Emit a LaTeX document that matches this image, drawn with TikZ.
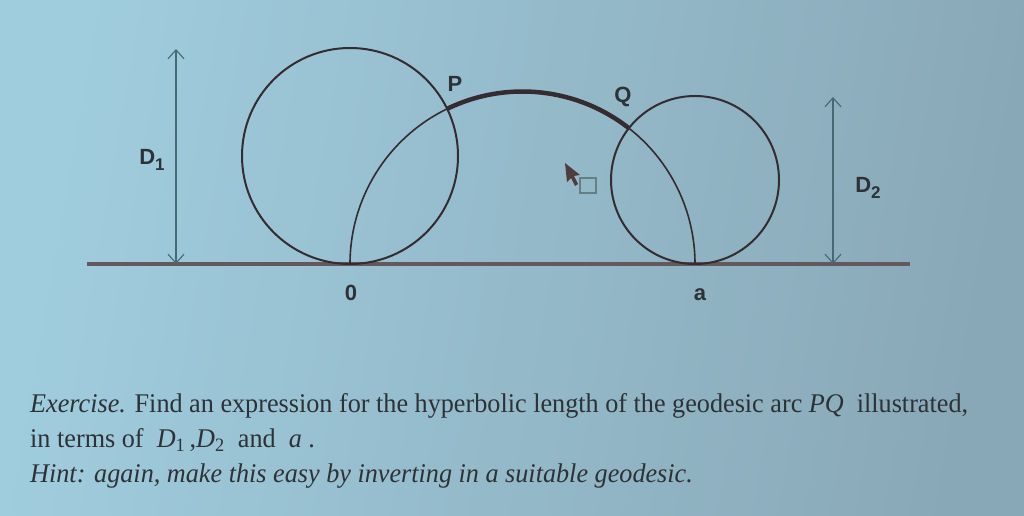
\documentclass[tikz,border=0pt]{standalone}
\usepackage{fontspec}
\setmainfont{Liberation Serif}
\newfontfamily\labfont{Liberation Sans}
\usetikzlibrary{arrows.meta}
\definecolor{bgA}{RGB}{160,205,222}
\definecolor{bgM}{RGB}{148,192,208}
\definecolor{bgB}{RGB}{137,168,183}
\definecolor{curve}{RGB}{52,44,48}
\definecolor{basec}{RGB}{100,88,92}
\definecolor{dimc}{RGB}{70,105,115}
\definecolor{txt}{RGB}{45,50,55}
\definecolor{curs}{RGB}{80,60,62}
\definecolor{sq}{RGB}{105,125,132}
\begin{document}
\begin{tikzpicture}[x=1pt,y=1pt,
  circ/.style={draw=curve,line width=2pt},
  geo/.style={draw=curve,line width=1.6pt},
  geothick/.style={draw=curve,line width=4.5pt},
  dimarrow/.style={draw=dimc,line width=1.1pt,{Straight Barb[length=9pt,width=16pt]}-{Straight Barb[length=9pt,width=16pt]}},
  lab/.style={font=\labfont\bfseries\fontsize{22}{22}\selectfont, text=txt, inner sep=0pt},
  body/.style={font=\fontsize{27}{27}\selectfont, text=txt, anchor=base west, inner sep=0pt}]
\shade[left color=bgA,middle color=bgM,right color=bgB,shading angle=80] (0,0) rectangle (1024,516);
\useasboundingbox (0,0) rectangle (1024,516);
% coordinates
\coordinate (L) at (87,252);
\coordinate (R) at (910,252);
\coordinate (O) at (350,252);
\coordinate (A) at (695,252);
\coordinate (C1) at (350,360);
\coordinate (C2) at (695,336);
\coordinate (G) at (522.5,252);
\path (G) ++(115.9:172.5pt) coordinate (P);
\path (G) ++(51.9:172.5pt) coordinate (Q);
\coordinate (D1t) at (176,467);
\coordinate (D1b) at (176,252);
\coordinate (D2t) at (833,419);
\coordinate (D2b) at (833,252);
% base line
\draw[line width=4pt, basec] (L) -- (R);
% circles
\draw[circ] (C1) circle[radius=108pt];
\draw[circ] (C2) circle[radius=84pt];
% geodesic
\draw[geo] (O) arc[start angle=180,end angle=115.9,radius=172.5pt];
\draw[geothick] (P) arc[start angle=115.9,end angle=51.9,radius=172.5pt];
\draw[geo] (Q) arc[start angle=51.9,end angle=0,radius=172.5pt];
% dimension arrows
\draw[dimarrow] (D1b) -- (D1t);
\draw[dimarrow] (D2b) -- (D2t);
% labels
\node[lab] (lD1) at (152,356) {D\raisebox{-0.5ex}{\fontsize{17}{17}\selectfont 1}};
\node[lab] (lP) at (455,432) {P};
\node[lab] (lQ) at (623,419) {Q};
\node[lab] (lD2) at (868,328) {D\raisebox{-0.5ex}{\fontsize{17}{17}\selectfont 2}};
\node[lab] (l0) at (351,223) {0};
\node[lab] (la) at (700,221) {a};
% cursor
\fill[curs] (565,353) -- (567,334) -- (571,338) -- (575,330) -- (578,332) -- (574,340) -- (580,341) -- cycle;
\draw[sq, line width=1.4pt] (580,323) rectangle (596,338);
% text
\node[body] (t1) at (30,103) {\scalebox{0.97}[1]{\textit{Exercise.} Find an expression for the hyperbolic length of the geodesic arc \textit{PQ}\ \ illustrated,}};
\node[body] (t2) at (30,68) {\scalebox{0.97}[1]{in terms of \ \textit{D}\textsubscript{1}\,,\textit{D}\textsubscript{2}\ \ and \ \textit{a} .}};
\node[body] (t3) at (30,33) {\scalebox{0.97}[1]{\textit{Hint: again, make this easy by inverting in a suitable geodesic.}}};
\end{tikzpicture}
\end{document}
